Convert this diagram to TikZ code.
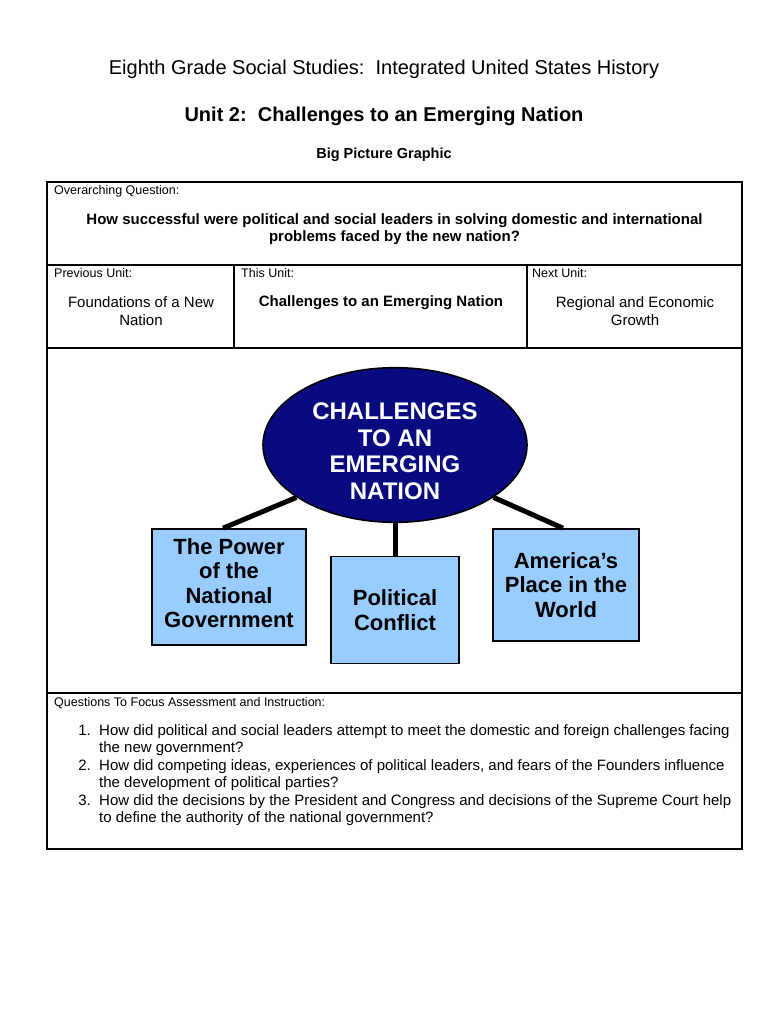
\documentclass[tikz,border=0pt]{standalone}
\usepackage{fontspec}
\setmainfont{Liberation Sans}
\usepackage{xcolor}
\usepackage{tikz}
\usetikzlibrary{shapes.geometric, positioning}

\definecolor{navy}{RGB}{10,10,128}
\definecolor{paleblue}{RGB}{153,204,255}

\begin{document}
\begin{tikzpicture}[x=1pt, y=-1pt,
    tag/.style={anchor=west, inner sep=0pt, font=\fontsize{12.5}{14}\selectfont},
    unitname/.style={align=center, inner sep=0pt, font=\fontsize{15}{18}\selectfont},
    topic/.style={draw, line width=1.6pt, fill=paleblue, align=center, inner sep=0pt,
        font=\bfseries\fontsize{22}{24.5}\selectfont},
    link/.style={line width=5pt}]
    \useasboundingbox[fill=white] (0,0) rectangle (768,1024);

    % 1. Tieu de
    \node (title) at (384,69) {\fontsize{20}{24}\selectfont Eighth Grade Social Studies:\ \ Integrated United States History};
    \node (unit) at (384,116) {\bfseries\fontsize{20}{24}\selectfont Unit 2:\ \ Challenges to an Emerging Nation};
    \node (bigpic) at (384,155) {\bfseries\fontsize{14.5}{17}\selectfont Big Picture Graphic};

    % 2. Khung bang
    \draw[line width=2pt] (47,182) rectangle (742,849);
    \foreach \y in {265,348,693} {
        \draw[line width=2pt] (47,\y) -- (742,\y);
    }
    \foreach \x in {234,527} {
        \draw[line width=2pt] (\x,265) -- (\x,348);
    }

    % 3. Cau hoi chinh
    \node[tag] (oqlbl) at (54,191) {Overarching Question:};
    \node[align=center, inner sep=0pt, font=\bfseries\fontsize{15}{17}\selectfont] (oq) at (394.5,229.5)
        {How successful were political and social leaders in solving domestic and international\\
         problems faced by the new nation?};

    % 4. Cac bai
    \node[tag] (prevlbl) at (54,273) {Previous Unit:};
    \node[tag] (thislbl) at (241,273) {This Unit:};
    \node[tag] (nextlbl) at (532,273) {Next Unit:};
    \node[unitname] (prev) at (141,311) {Foundations of a New\\Nation};
    \node[unitname, font=\bfseries\fontsize{15}{18}\selectfont] (this) at (381,303) {Challenges to an Emerging Nation};
    \node[unitname] (next) at (635,311) {Regional and Economic\\Growth};

    % 5. So do
    \node[ellipse, draw, line width=1.6pt, fill=navy, text=white, align=center, inner sep=0pt,
        minimum width=264pt, minimum height=154pt,
        font=\bfseries\fontsize{24}{26.7}\selectfont] (core) at (395,445)
        {\rule{0pt}{29pt}CHALLENGES\\TO AN\\EMERGING\\NATION};
    \node[topic, minimum width=154pt, minimum height=116pt] (power) at (229,587)
        {The Power\\of the\\National\\Government\rule[-8pt]{0pt}{8pt}};
    \node[topic, minimum width=128pt, minimum height=107pt] (conflict) at (395,610)
        {Political\\Conflict};
    \node[topic, minimum width=146pt, minimum height=112pt] (place) at (566,585)
        {America's\\Place in the\\World};
    \draw[link] (core.208) -- ([xshift=-6pt]power.north);
    \draw[link] (core.south) -- (conflict.north);
    \draw[link] (core.332) -- ([xshift=-3pt]place.north);

    % 6. Cau hoi trong tam
    \node[tag] (qlbl) at (54,703) {Questions To Focus Assessment and Instruction:};
    \foreach \n/\y/\txt in {1/724/{How did political and social leaders attempt to meet the domestic and foreign challenges facing\\the new government?},
        2/759/{How did competing ideas, experiences of political leaders, and fears of the Founders influence\\the development of political parties?},
        3/794/{How did the decisions by the President and Congress and decisions of the Supreme Court help\\to define the authority of the national government?}} {
        \node[anchor=north east, inner sep=0pt, font=\fontsize{15}{17.5}\selectfont] (n\n) at (91,\y) {\vphantom{Hdl}\n.};
        \node[anchor=north west, align=left, inner sep=0pt, font=\fontsize{15}{17.5}\selectfont] (q\n) at (99,\y) {\txt};
    }
\end{tikzpicture}
\end{document}
